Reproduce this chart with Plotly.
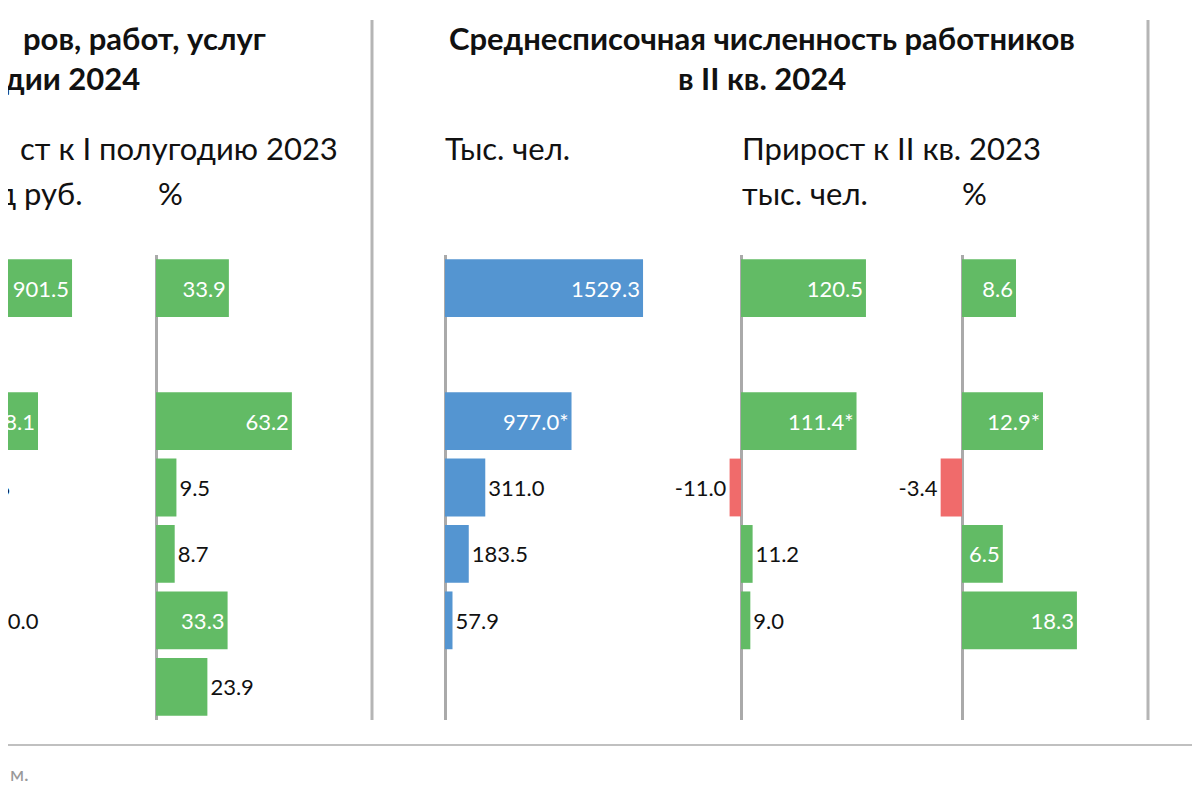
import plotly.graph_objects as go

rows = ["r1", "gap", "r2", "r3", "r4", "r5", "r6"]
rev_bln = [901.5, None, 688.1, 140.6, 52.3, 320.0, 95.4]
rev_pct = [33.9, None, 63.2, 9.5, 8.7, 33.3, 23.9]
emp_ths = [1529.3, None, 977.0, 311.0, 183.5, 57.9, None]
inc_ths = [120.5, None, 111.4, -11.0, 11.2, 9.0, None]
inc_pct = [8.6, None, 12.9, -3.4, 6.5, 18.3, None]
notes = ["", "", "*", "", "", "", ""]

W, H = 1200, 800
OX, OY = 8, 8  # page offset compensation
GREEN, BLUE, RED = "#62BB65", "#5495D1", "#F06B6B"
FONT = "Lato"

def px(a, b):
    return [max(0, a - OX) / W, (b - OX) / W]

# values, color, domain px, baseline px, px per unit, notes, inside threshold
panels = [
    (rev_bln, None, (OX, 140), None, 6.27, False, 0.0),
    (rev_pct, None, (156, 345), 156, 2.15, False, 0.3),
    (emp_ths, BLUE, (445, 700), 445, 0.1295, True, 0.2),
    (inc_ths, None, (660, 940), 741, 1.037, True, 0.2),
    (inc_pct, None, (880, 1140), 962, 6.28, True, 0.2),
]

fig = go.Figure()
ydom = [(80 + OY) / H, (545 + OY) / H]
for i, (vals, col, (a, b), base, k, has_note, thr) in enumerate(panels):
    xa = "x" if i == 0 else f"x{i+1}"
    ya = "y" if i == 0 else f"y{i+1}"
    if base is None:
        rng = [500, 500 + (b - a) * k]
    else:
        rng = [-(base - a) / k, (b - base) / k]
    colors, texts, pos, tcol = [], [], [], []
    for v, n in zip(vals, notes):
        if v is None:
            colors.append(GREEN); texts.append(""); pos.append("none"); tcol.append("black")
            continue
        colors.append(col if col else (GREEN if v >= 0 else RED))
        texts.append(f"{v:.1f}" + (n if has_note else ""))
        if base is None:
            inside = v > rng[0] + 20 * k
        else:
            inside = abs(v) * k / (b - base) > thr
        pos.append("inside" if inside else "outside")
        tcol.append("white" if inside else "#111")
    fig.add_trace(go.Bar(
        y=rows, x=vals, orientation="h", marker=dict(color=colors, line=dict(width=0)),
        text=texts, textposition=pos, insidetextanchor="end",
        textfont=dict(family=FONT, size=22, color=tcol), width=0.87,
        cliponaxis=True, xaxis=xa, yaxis=ya, showlegend=False, hoverinfo="skip"))
    ax = dict(domain=px(a, b), range=rng, visible=True, showgrid=False, showticklabels=False,
              zeroline=(i > 0), zerolinecolor="#aaaaaa", zerolinewidth=3, showline=False, fixedrange=True)
    fig.layout["xaxis" if i == 0 else f"xaxis{i+1}"] = ax
    fig.layout["yaxis" if i == 0 else f"yaxis{i+1}"] = dict(
        domain=ydom, categoryorder="array", categoryarray=rows[::-1], autorange=False,
        range=[-0.5, 6.5], showticklabels=False, showgrid=False, zeroline=False,
        anchor=xa, fixedrange=True)

def vline(x):
    return dict(type="line", xref="paper", yref="paper", x0=(x - OX) / W, x1=(x - OX) / W,
                y0=1 - (20 - OY) / H, y1=1 - (720 - OY) / H, line=dict(color="#b5b5b5", width=3))

shapes = [
    vline(372), vline(1148),
    dict(type="line", xref="paper", yref="paper", x0=0, x1=1, y0=1 - (745 - OY) / H, y1=1 - (745 - OY) / H,
         line=dict(color="#c0c0c0", width=2)),
]

def ann(text, x, y, anchor="left", size=30, bold=False, color="#111"):
    return dict(text=f"<b>{text}</b>" if bold else text, xref="paper", yref="paper",
                x=max(0, x - OX) / W, y=1 - (y - OY) / H, xanchor=anchor, yanchor="middle", showarrow=False,
                font=dict(family=FONT, size=size, color=color), align="center")

annotations = [
    ann("ров, работ, услуг", 268, 38, "right", 31, True),
    ann("дии 2024", 142, 78, "right", 31, True),
    ann("ст к I полугодию 2023", 340, 148, "right", 31),
    ann("д руб.", 84, 193, "right", 31),
    ann("%", 156, 193, "left", 31),
    ann("Среднесписочная численность работников", 762, 38, "center", 31, True),
    ann("в II кв. 2024", 762, 78, "center", 31, True),
    ann("Тыс. чел.", 443, 148, "left", 31),
    ann("Прирост к II кв. 2023", 740, 148, "left", 31),
    ann("тыс. чел.", 740, 193, "left", 31),
    ann("%", 960, 193, "left", 31),
    ann("м.", 8, 773, "left", 20, False, "#999"),
]

fig.update_layout(width=W, height=H, margin=dict(l=0, r=0, t=0, b=0),
                  plot_bgcolor="white", paper_bgcolor="white", bargap=0.13,
                  shapes=shapes, annotations=annotations, uniformtext=dict(mode=False))
fig.write_html("out.html")
